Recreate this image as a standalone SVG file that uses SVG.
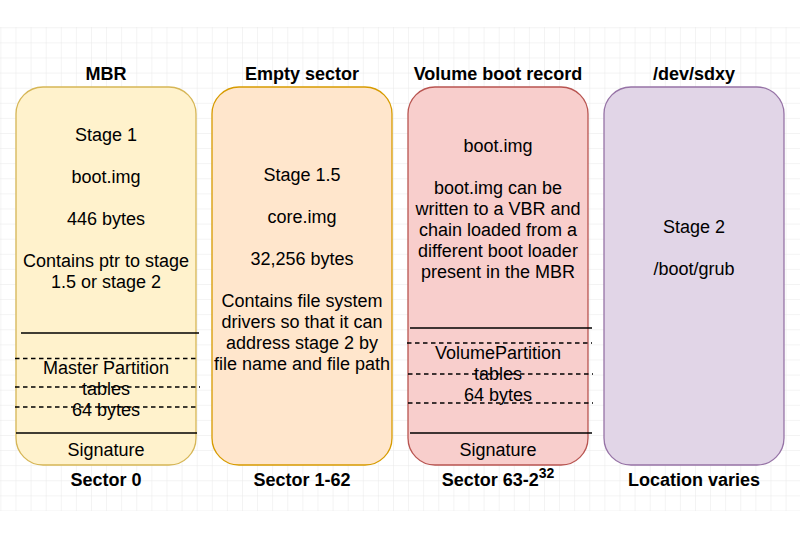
<svg xmlns="http://www.w3.org/2000/svg" width="800" height="533" viewBox="0 0 800 533">
<defs>
<pattern id="grid" width="15.1" height="15.1" patternUnits="userSpaceOnUse" x="15.5" y="27.3">
<path d="M0 0H15.1M0 0V15.1" fill="none" stroke="#e8e8e8" stroke-width="1"/>
</pattern>
<style>
.t{font-family:"Liberation Sans",Arial,sans-serif;font-size:18px;fill:#000;text-anchor:middle}
.b{font-family:"Liberation Sans",Arial,sans-serif;font-size:18px;font-weight:bold;fill:#000;text-anchor:middle}
.box{stroke-width:1.3}
.solid{stroke:#000;stroke-width:1.4;fill:none}
.dash{stroke:#000;stroke-width:1.4;stroke-dasharray:4.5 3.5;fill:none}
</style>
</defs>
<rect width="800" height="533" fill="#fff"/>
<rect x="0" y="27" width="800" height="484" fill="url(#grid)"/>
<g id="mbr">
<text class="b" x="106" y="80">MBR</text>
<rect class="box" x="16" y="87" width="180" height="378" rx="27" fill="#fff2cc" stroke="#d6b656"/>
<text class="t" x="106" y="141">Stage 1</text>
<text class="t" x="106" y="183">boot.img</text>
<text class="t" x="106" y="225">446 bytes</text>
<text class="t" x="106" y="267">Contains ptr to stage</text>
<text class="t" x="106" y="288">1.5 or stage 2</text>
<text class="t" x="106" y="374">Master Partition</text>
<text class="t" x="106" y="395">tables</text>
<text class="t" x="106" y="416">64 bytes</text>
<text class="t" x="106" y="456">Signature</text>
<text class="b" x="106" y="486">Sector 0</text>
</g>
<g id="empty">
<text class="b" x="302" y="80">Empty sector</text>
<rect class="box" x="212" y="87" width="180" height="378" rx="27" fill="#ffe6cc" stroke="#d79b00"/>
<text class="t" x="302" y="181">Stage 1.5</text>
<text class="t" x="302" y="223">core.img</text>
<text class="t" x="302" y="265">32,256 bytes</text>
<text class="t" x="302" y="307">Contains file system</text>
<text class="t" x="302" y="328">drivers so that it can</text>
<text class="t" x="302" y="349">address stage 2 by</text>
<text class="t" x="302" y="370">file name and file path</text>
<text class="b" x="302" y="486">Sector 1-62</text>
</g>
<g id="vbr">
<text class="b" x="498" y="80">Volume boot record</text>
<rect class="box" x="408" y="87" width="180" height="378" rx="27" fill="#f8cecc" stroke="#b85450"/>
<text class="t" x="498" y="152">boot.img</text>
<text class="t" x="498" y="194">boot.img can be</text>
<text class="t" x="498" y="215">written to a VBR and</text>
<text class="t" x="498" y="236">chain loaded from a</text>
<text class="t" x="498" y="257">different boot loader</text>
<text class="t" x="498" y="278">present in the MBR</text>
<text class="t" x="498" y="359">VolumePartition</text>
<text class="t" x="498" y="380">tables</text>
<text class="t" x="498" y="401">64 bytes</text>
<text class="t" x="498" y="456">Signature</text>
<text class="b" x="498" y="486">Sector 63-2<tspan font-size="14" dy="-8">32</tspan></text>
</g>
<g id="sdxy">
<text class="b" x="694" y="80">/dev/sdxy</text>
<rect class="box" x="604" y="87" width="180" height="378" rx="27" fill="#e1d5e7" stroke="#9673a6"/>
<text class="t" x="694" y="233">Stage 2</text>
<text class="t" x="694" y="275">/boot/grub</text>
<text class="b" x="694" y="486">Location varies</text>
</g>
<g id="connectors">
<path class="solid" d="M21 333H199"/>
<path class="dash" d="M15 358.5H199"/>
<path class="dash" d="M15 387H200"/>
<path class="dash" d="M15 407H199"/>
<path class="solid" d="M16 433H197"/>
<path class="solid" d="M410 328H592"/>
<path class="dash" d="M407 343H592"/>
<path class="dash" d="M408 374H593"/>
<path class="dash" d="M408 403H593"/>
<path class="solid" d="M410 433H592"/>
</g>
</svg>
